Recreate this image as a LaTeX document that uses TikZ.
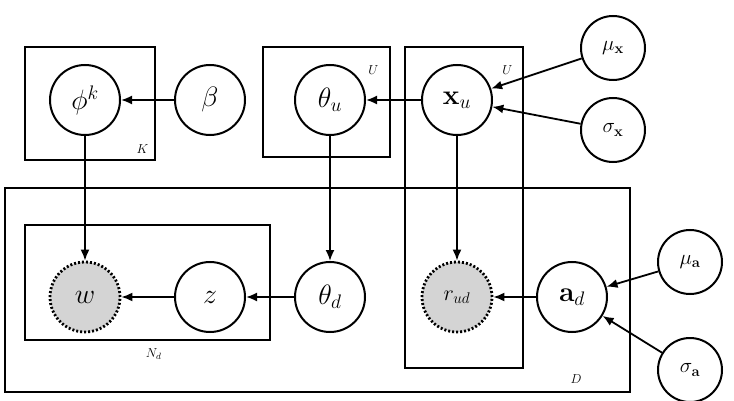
\RequirePackage{fix-cm}
\documentclass[tikz,border=0pt]{standalone}
\usepackage{amsmath}
\usetikzlibrary{arrows.meta}
\begin{document}
\begin{tikzpicture}[x=1pt,y=-1pt,
  v/.style={circle,draw,line width=2pt,minimum size=70pt,inner sep=0pt,font=\fontsize{28}{32}\selectfont},
  vs/.style={v,minimum size=64pt,font=\fontsize{21}{24}\selectfont},
  obs/.style={fill=black!17,dotted,line width=2.8pt},
  plate/.style={draw,line width=2pt},
  lab/.style={font=\fontsize{13}{15}\selectfont,anchor=south east},
  e/.style={-{Latex[length=11pt,width=9pt]},line width=1.8pt}]
\useasboundingbox (0,0) rectangle (734,401);
\draw[plate] (25,47) rectangle (155,160);
\draw[plate] (263,47) rectangle (390,157);
\draw[plate] (405,47) rectangle (523,368);
\draw[plate] (5,188) rectangle (630,392);
\draw[plate] (25,225) rectangle (270,340);
\node[lab] at (152,157) {$K$};
\node[lab] at (382,78) {$U$};
\node[lab] at (516,78) {$U$};
\node[lab] at (585,387) {$D$};
\node[lab] at (165,363) {$N_d$};
\node[v] (phi) at (85,100) {$\phi^k$};
\node[v] (beta) at (210,100) {$\beta$};
\node[v] (thu) at (330,100) {$\theta_u$};
\node[v] (xu) at (457,100) {$\mathbf{x}_u$};
\node[vs] (mux) at (613,48) {$\mu_{\mathbf{x}}$};
\node[vs] (sx) at (613,130) {$\sigma_{\mathbf{x}}$};
\node[v,obs] (w) at (85,297) {$w$};
\node[v] (z) at (210,297) {$z$};
\node[v] (thd) at (330,297) {$\theta_d$};
\node[v,obs,font=\fontsize{22}{26}\selectfont] (r) at (457,297) {$r_{ud}$};
\node[v] (ad) at (572,297) {$\mathbf{a}_d$};
\node[vs] (mua) at (690,262) {$\mu_{\mathbf{a}}$};
\node[vs] (sa) at (690,370) {$\sigma_{\mathbf{a}}$};
\draw[e] (beta) -- (phi);
\draw[e] (xu) -- (thu);
\draw[e] (mux) -- (xu);
\draw[e] (sx) -- (xu);
\draw[e] (phi) -- (w);
\draw[e] (thu) -- (thd);
\draw[e] (xu) -- (r);
\draw[e] (z) -- (w);
\draw[e] (thd) -- (z);
\draw[e] (ad) -- (r);
\draw[e] (mua) -- (ad);
\draw[e] (sa) -- (ad);
\end{tikzpicture}
\end{document}
